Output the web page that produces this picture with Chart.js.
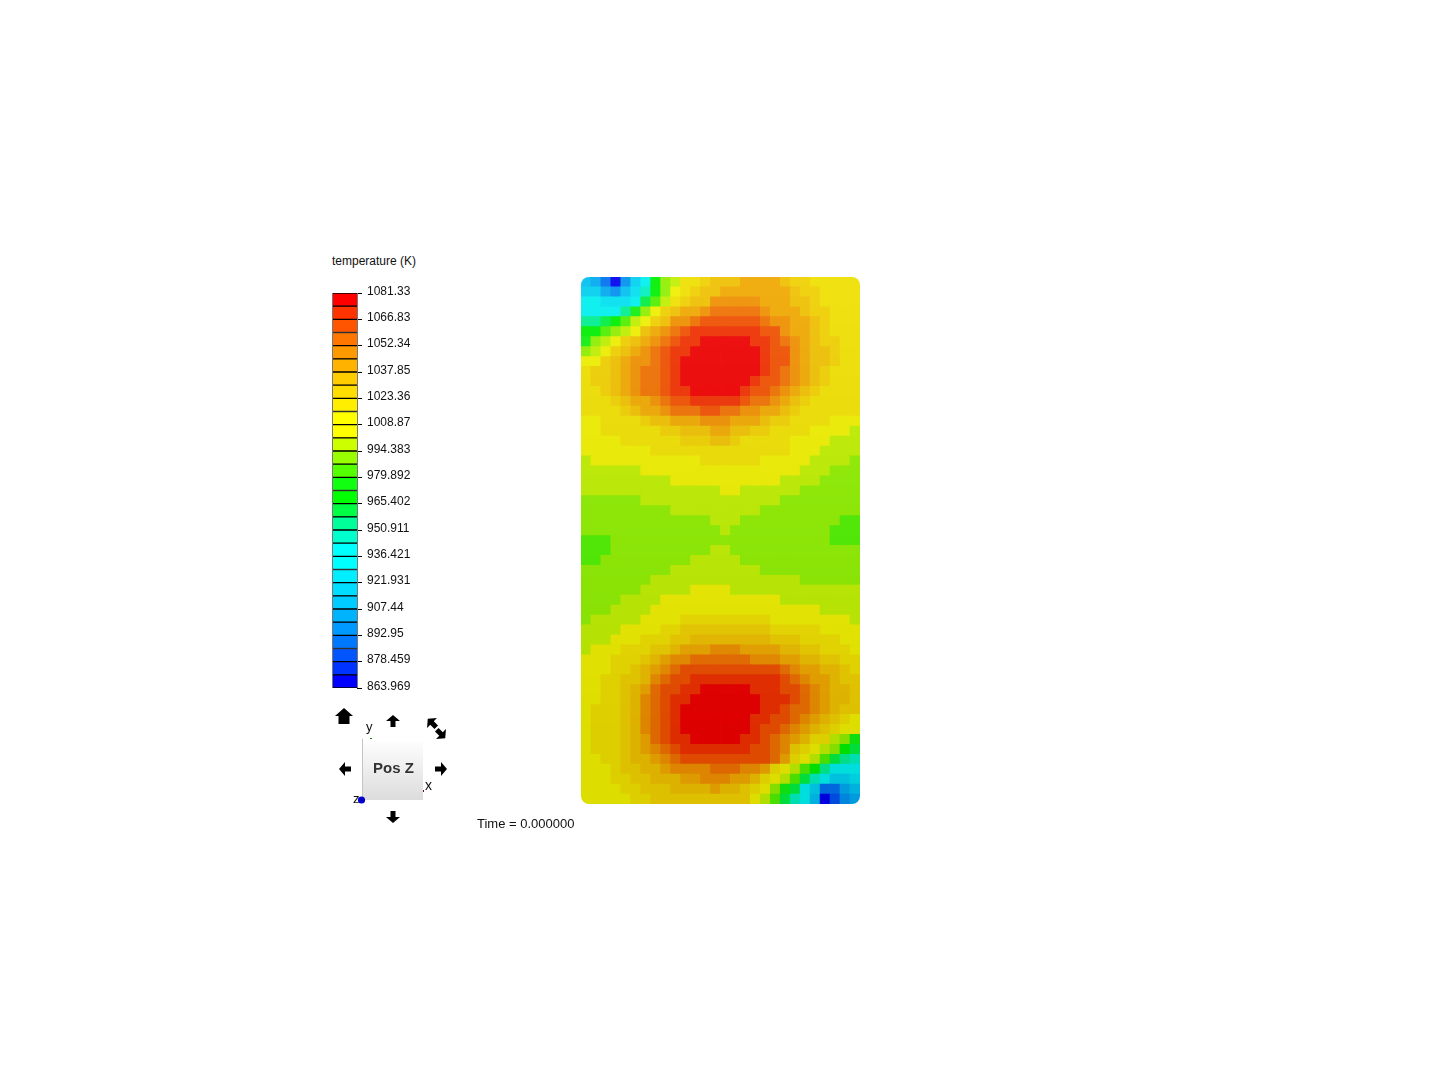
<!DOCTYPE html>
<html>
<head>
<meta charset="utf-8">
<title>temperature (K)</title>
<script src="https://cdn.jsdelivr.net/npm/chart.js@4"></script>
<style>
    html, body { margin: 0; background: #fff; }
    body { width: 1440px; height: 1080px; position: relative; overflow: hidden; font-family: "Liberation Sans", Arial, sans-serif; color: #111; }
    canvas { position: absolute; }
    .lbl { position: absolute; white-space: nowrap; line-height: 1; }
    #cube { position: absolute; left: 362px; top: 739px; width: 61px; height: 61px; background: linear-gradient(#fff, #dcdcdc); border-left: 1px solid #c4c4c4; box-sizing: border-box; }
    #widget { position: absolute; left: 0; top: 0; }
</style>
</head>
<body>
<div class="lbl" style="left:332px;top:255px;font-size:12px">temperature (K)</div>
<canvas id="legend-chart" style="left:331px;top:283px"></canvas>
<canvas id="field-chart" style="left:581px;top:277px"></canvas>

<div id="cube"></div>
<svg id="widget" width="1440" height="1080">
    <g fill="#000">
        <path transform="translate(344,716)" d="M0,-8 L9,0 L5.5,0 L5.5,8 L-5.5,8 L-5.5,0 L-9,0 Z"/>
        <path transform="translate(393,721)" d="M0,-6 L7,0 L2.5,0 L2.5,6 L-2.5,6 L-2.5,0 L-7,0 Z"/>
        <path transform="translate(393,817)" d="M0,6 L7,0 L2.5,0 L2.5,-6 L-2.5,-6 L-2.5,0 L-7,0 Z"/>
        <path transform="translate(345,769)" d="M-6,0 L0,-7 L0,-2.5 L6,-2.5 L6,2.5 L0,2.5 L0,7 Z"/>
        <path transform="translate(441,769)" d="M6,0 L0,-7 L0,-2.5 L-6,-2.5 L-6,2.5 L0,2.5 L0,7 Z"/>
        <path transform="translate(432,723) rotate(-45)" d="M0,-6 L7,0 L2.5,0 L2.5,6 L-2.5,6 L-2.5,0 L-7,0 Z"/>
        <path transform="translate(441,734) rotate(135)" d="M0,-6 L7,0 L2.5,0 L2.5,6 L-2.5,6 L-2.5,0 L-7,0 Z"/>
    </g>
    <rect x="370" y="738" width="2" height="1" fill="#0a7a0a"/>
    <rect x="423" y="790" width="1" height="2" fill="#7a0a0a"/>
    <circle cx="361.5" cy="800" r="3.6" fill="#0000c8"/>
</svg>
<div class="lbl" style="left:373px;top:760px;font-size:15px;font-weight:bold;color:#333">Pos Z</div>
<div class="lbl" style="left:366px;top:720px;font-size:13px">y</div>
<div class="lbl" style="left:425px;top:778px;font-size:14px">x</div>
<div class="lbl" style="left:353px;top:792px;font-size:13px">z</div>
<div class="lbl" style="left:477px;top:817px;font-size:13px">Time = 0.000000</div>

<script>
// legend levels, low to high (K)
const bandEdges = [863.969, 871.214, 878.459, 885.705, 892.95, 900.195, 907.44, 914.686, 921.931, 929.176,
    936.421, 943.666, 950.911, 958.157, 965.402, 972.647, 979.892, 987.138, 994.383, 1001.628,
    1008.873, 1016.118, 1023.364, 1030.609, 1037.854, 1045.099, 1052.344, 1059.59, 1066.835, 1074.08, 1081.33];

const bandColors = ['#0000ff', '#0033ff', '#0055ff', '#0077ff', '#0099ff', '#00b3ff', '#00ccff', '#00ddff', '#00eeff', '#00ffff',
    '#00ffff', '#00ffcc', '#00ff99', '#00ff44', '#00ff00', '#11ff11', '#55ff00', '#99ff00', '#ccff00', '#ffff00',
    '#ffff00', '#ffee00', '#ffdd00', '#ffcc00', '#ffb300', '#ff9900', '#ff7700', '#ff5500', '#ff3300', '#ff0000'];

const tickLabels = ['1081.33', '1066.83', '1052.34', '1037.85', '1023.36', '1008.87', '994.383', '979.892',
    '965.402', '950.911', '936.421', '921.931', '907.44', '892.95', '878.459', '863.969'];

// temperature, one row per 10px strip, top to bottom (K)
const temperatureRows = [
    [911,904,889,868,897,918,940,969,991,998,1020,1020,1027,1034,1034,1034,1042,1042,1042,1042,1034,1027,1027,1020,1020,1020,1020,1020],
    [918,918,904,897,911,926,947,969,991,1005,1020,1027,1034,1034,1042,1042,1042,1042,1042,1042,1042,1034,1027,1027,1020,1020,1020,1020],
    [933,933,926,926,926,940,962,984,998,1020,1027,1034,1034,1049,1049,1049,1049,1049,1042,1042,1042,1034,1034,1027,1020,1020,1020,1020],
    [940,940,940,940,955,976,991,1005,1027,1034,1042,1042,1049,1056,1056,1056,1056,1056,1049,1042,1042,1042,1034,1027,1027,1020,1020,1020],
    [955,955,962,969,984,998,1005,1027,1034,1049,1049,1056,1063,1063,1063,1063,1063,1063,1056,1049,1049,1042,1042,1034,1027,1020,1020,1020],
    [969,969,984,991,998,1013,1034,1042,1049,1056,1063,1071,1071,1071,1071,1071,1071,1071,1063,1063,1049,1042,1042,1034,1027,1020,1020,1020],
    [976,991,998,1013,1027,1034,1042,1049,1056,1063,1071,1071,1078,1078,1078,1078,1078,1071,1071,1063,1056,1049,1042,1034,1027,1027,1020,1020],
    [991,998,1005,1027,1034,1042,1049,1056,1063,1071,1071,1078,1078,1078,1078,1078,1078,1078,1071,1063,1063,1049,1042,1034,1034,1027,1020,1020],
    [1005,1013,1027,1034,1042,1049,1049,1056,1063,1071,1078,1078,1078,1078,1078,1078,1078,1078,1071,1063,1063,1049,1042,1034,1034,1027,1020,1020],
    [1020,1027,1027,1034,1042,1049,1056,1056,1063,1071,1078,1078,1078,1078,1078,1078,1078,1078,1071,1063,1056,1049,1042,1034,1027,1020,1020,1020],
    [1020,1027,1027,1034,1042,1049,1056,1056,1063,1071,1078,1078,1078,1078,1078,1078,1078,1071,1063,1063,1056,1049,1042,1034,1027,1020,1020,1020],
    [1020,1020,1027,1034,1042,1049,1056,1056,1063,1071,1071,1078,1078,1078,1078,1078,1071,1063,1063,1056,1049,1042,1034,1027,1020,1020,1020,1020],
    [1020,1020,1020,1027,1034,1042,1042,1049,1056,1063,1063,1071,1071,1071,1071,1071,1063,1056,1056,1049,1042,1034,1027,1020,1020,1020,1020,1020],
    [1020,1020,1020,1020,1027,1034,1042,1042,1049,1056,1056,1056,1063,1063,1056,1056,1049,1049,1042,1042,1034,1027,1020,1020,1020,1020,1020,1020],
    [1013,1013,1020,1020,1020,1020,1027,1034,1034,1042,1042,1042,1049,1049,1049,1042,1042,1042,1034,1027,1027,1020,1020,1020,1020,1013,1013,1005],
    [1013,1013,1020,1020,1020,1020,1020,1020,1027,1027,1034,1034,1034,1042,1042,1034,1034,1027,1027,1020,1020,1020,1020,1013,1013,1013,1005,998],
    [1013,1013,1013,1013,1020,1020,1020,1020,1020,1020,1027,1027,1027,1034,1034,1027,1020,1020,1020,1020,1020,1013,1013,1013,1005,998,998,998],
    [1005,1013,1013,1013,1013,1013,1013,1020,1020,1020,1020,1020,1020,1020,1020,1020,1020,1020,1020,1020,1020,1013,1013,1005,998,998,998,998],
    [998,1005,1005,1005,1005,1005,1013,1013,1013,1013,1013,1013,1020,1020,1020,1020,1020,1020,1013,1013,1013,1013,1005,998,998,998,998,991],
    [998,998,998,998,998,998,1005,1005,1005,1013,1013,1013,1013,1013,1013,1013,1013,1013,1013,1013,1005,1005,998,998,998,991,991,991],
    [998,998,998,998,998,998,998,998,998,1005,1005,1005,1005,1005,1005,1005,1005,1005,1005,1005,998,998,998,998,991,991,991,991],
    [998,998,998,998,998,998,998,998,998,998,998,998,998,998,1005,1005,998,998,998,998,998,998,991,991,991,991,991,991],
    [991,991,991,991,991,991,998,998,998,998,998,998,998,998,998,998,998,998,998,998,991,991,991,991,991,991,991,991],
    [991,991,991,991,991,991,991,991,991,998,998,998,998,998,998,998,998,998,991,991,991,991,991,991,991,991,991,991],
    [991,991,991,991,991,991,991,991,991,991,991,991,991,998,998,998,991,991,991,991,991,991,991,991,991,991,984,984],
    [991,991,991,991,991,991,991,991,991,991,991,991,991,991,998,991,991,991,991,991,991,991,991,991,991,984,984,984],
    [984,984,984,991,991,991,991,991,991,991,991,991,991,991,991,991,991,991,991,991,991,991,991,991,991,984,984,984],
    [984,984,984,991,991,991,991,991,991,991,991,991,991,998,998,991,991,991,991,991,991,991,991,991,991,991,991,991],
    [984,984,991,991,991,991,991,991,991,991,991,998,998,998,998,998,991,991,991,991,991,991,991,991,991,991,991,991],
    [991,991,991,991,991,991,991,991,991,998,998,998,998,998,998,998,998,998,991,991,991,991,991,991,991,991,991,991],
    [991,991,991,991,991,991,991,998,998,998,998,998,998,998,998,998,998,998,998,998,998,998,991,991,991,991,991,991],
    [991,991,991,991,991,991,998,998,998,998,998,1005,1005,1005,1005,998,998,998,998,998,998,998,998,998,998,998,998,998],
    [991,991,991,991,998,998,998,998,1005,1005,1005,1005,1005,1005,1005,1005,1005,1005,1005,1005,998,998,998,998,998,998,998,998],
    [991,991,991,998,998,998,998,1005,1005,1005,1005,1005,1005,1005,1005,1005,1005,1005,1005,1005,1005,1005,1005,1005,998,998,998,998],
    [991,998,998,998,998,998,1005,1005,1005,1005,1020,1020,1020,1020,1020,1020,1020,1020,1020,1005,1005,1005,1005,1005,1005,1005,1005,998],
    [998,998,998,998,1013,1013,1013,1013,1020,1020,1027,1027,1027,1027,1027,1027,1027,1027,1027,1020,1020,1020,1020,1020,1013,1013,1013,1013],
    [998,998,998,1013,1013,1013,1020,1020,1020,1027,1027,1034,1034,1034,1034,1034,1034,1034,1034,1027,1027,1027,1020,1020,1020,1020,1013,1013],
    [998,1013,1013,1013,1020,1020,1020,1027,1027,1034,1042,1042,1042,1049,1049,1049,1042,1042,1042,1042,1034,1034,1027,1027,1020,1020,1020,1013],
    [1013,1013,1013,1020,1020,1020,1027,1034,1042,1049,1049,1056,1056,1056,1056,1056,1056,1049,1049,1049,1042,1042,1034,1034,1027,1027,1020,1020],
    [1013,1013,1013,1020,1020,1027,1034,1042,1049,1056,1063,1063,1063,1063,1063,1063,1063,1063,1063,1063,1056,1049,1042,1042,1034,1034,1027,1020],
    [1013,1013,1020,1020,1027,1027,1034,1049,1056,1063,1063,1071,1071,1071,1071,1071,1071,1071,1071,1071,1063,1056,1049,1042,1042,1034,1027,1027],
    [1013,1013,1020,1020,1027,1034,1042,1056,1063,1063,1071,1071,1078,1078,1078,1078,1078,1071,1071,1071,1063,1063,1056,1049,1042,1034,1034,1027],
    [1013,1013,1020,1020,1027,1034,1049,1056,1063,1071,1071,1078,1078,1078,1078,1078,1078,1078,1071,1071,1071,1063,1056,1049,1042,1034,1034,1027],
    [1013,1020,1020,1020,1027,1034,1049,1056,1063,1071,1078,1078,1078,1078,1078,1078,1078,1078,1071,1071,1063,1056,1056,1049,1042,1034,1027,1027],
    [1013,1020,1020,1020,1027,1034,1049,1056,1063,1071,1078,1078,1078,1078,1078,1078,1078,1071,1071,1063,1063,1056,1049,1042,1034,1027,1020,1013],
    [1013,1020,1020,1020,1027,1034,1049,1056,1063,1071,1078,1078,1078,1078,1078,1078,1078,1071,1063,1063,1056,1049,1042,1034,1027,1020,1013,1005],
    [1013,1020,1020,1020,1027,1034,1042,1056,1063,1071,1071,1078,1078,1078,1078,1078,1071,1071,1063,1056,1049,1042,1034,1020,1020,998,991,976],
    [1013,1020,1020,1020,1027,1034,1042,1049,1056,1063,1071,1071,1071,1071,1071,1071,1071,1063,1063,1056,1049,1027,1020,1005,998,991,969,962],
    [1013,1013,1020,1020,1027,1034,1034,1042,1049,1056,1063,1063,1063,1063,1063,1063,1063,1063,1063,1056,1042,1020,1005,998,984,962,955,947],
    [1013,1013,1013,1020,1027,1027,1034,1034,1042,1049,1049,1049,1049,1056,1056,1056,1049,1049,1042,1020,1013,998,984,969,955,940,940,940],
    [1013,1013,1013,1020,1020,1027,1027,1034,1034,1034,1042,1042,1049,1049,1049,1042,1042,1034,1020,1005,998,984,962,947,933,918,918,926],
    [1013,1013,1013,1013,1020,1020,1027,1027,1027,1034,1034,1034,1034,1042,1034,1034,1027,1020,1005,991,976,962,940,918,889,889,904,911],
    [1013,1013,1013,1013,1013,1020,1020,1027,1027,1027,1027,1027,1027,1027,1027,1027,1027,1013,998,984,962,947,933,911,868,882,897,904]
];

const rowCount = temperatureRows.length;
const colCount = temperatureRows[0].length;

function bandOf(t) {
    let k = 0;
    while (k < bandColors.length - 1 && t >= bandEdges[k + 1]) k++;
    return k;
}

// the surface is lit: colours are a bit dark, with a soft sheen towards the top
function shadedColor(t, row) {
    const hex = bandColors[bandOf(t)];
    const sheen = Math.max(0, 0.075 * (1 - row / 45));
    const channel = i => Math.min(255, Math.round((parseInt(hex.substr(i, 2), 16) / 255 * 0.867 + sheen) * 255));
    return `rgb(${channel(1)},${channel(3)},${channel(5)})`;
}

function buildFieldPoints() {
    const points = [];
    temperatureRows.forEach((cells, row) => {
        cells.forEach((t, col) => points.push({ x: col + 0.5, y: row + 0.5, t, row }));
    });
    return points;
}

// rounded corners of the plate
const plateClip = {
    id: 'plateClip',
    beforeDatasetsDraw(chart) {
        const { ctx, chartArea: a } = chart;
        ctx.save();
        ctx.beginPath();
        ctx.roundRect(a.left, a.top, a.right - a.left, a.bottom - a.top, 8);
        ctx.clip();
    },
    afterDatasetsDraw(chart) {
        chart.ctx.restore();
    }
};

function renderField() {
    const canvas = document.getElementById('field-chart');
    canvas.width = 279;
    canvas.height = 527;
    new Chart(canvas, {
        type: 'scatter',
        data: {
            datasets: [{
                data: buildFieldPoints(),
                pointStyle: 'rect',
                borderWidth: 0,
                pointBorderWidth: 0,
                pointRadius: 7.6,
                pointHoverRadius: 7.6,
                backgroundColor: c => shadedColor(c.raw.t, c.raw.row)
            }]
        },
        options: {
            responsive: false,
            animation: false,
            events: [],
            layout: { padding: 0, autoPadding: false },
            scales: {
                x: { type: 'linear', min: 0, max: colCount, display: false },
                y: { type: 'linear', min: 0, max: rowCount, reverse: true, display: false }
            },
            plugins: { legend: { display: false }, tooltip: { enabled: false } }
        },
        plugins: [plateClip]
    });
}

function renderLegend() {
    const canvas = document.getElementById('legend-chart');
    canvas.width = 111;
    canvas.height = 415;
    new Chart(canvas, {
        type: 'bar',
        data: {
            labels: ['temperature'],
            datasets: bandColors.map((color, k) => ({
                data: [[bandEdges[k], bandEdges[k + 1]]],
                backgroundColor: color,
                borderColor: '#000',
                borderWidth: { top: 1, bottom: 1, left: 0, right: 0 },
                borderSkipped: false,
                barPercentage: 1,
                categoryPercentage: 1,
                grouped: false
            }))
        },
        options: {
            responsive: false,
            animation: false,
            events: [],
            layout: { padding: { top: 10, bottom: 10, left: 1, right: 0 } },
            scales: {
                x: {
                    ticks: { display: false },
                    border: { display: false },
                    grid: { offset: true, color: '#777', drawTicks: false, z: 1 }
                },
                y: {
                    position: 'right',
                    min: bandEdges[0],
                    max: bandEdges[bandEdges.length - 1],
                    afterFit: scale => { scale.width = 85; },
                    afterBuildTicks: scale => { scale.ticks = tickLabels.map(v => ({ value: Number(v), label: v })); },
                    border: { display: false },
                    grid: { drawOnChartArea: false, color: '#000', tickLength: 5 },
                    ticks: {
                        autoSkip: false,
                        padding: 5,
                        color: '#111',
                        font: { family: '"Liberation Sans", Arial', size: 12, lineHeight: '3px' },
                        // blank second line nudges the text up off the tick
                        callback: v => [tickLabels.find(l => Number(l) === v), '']
                    }
                }
            },
            plugins: { legend: { display: false }, tooltip: { enabled: false } }
        }
    });
}

renderLegend();
renderField();
</script>
</body>
</html>
